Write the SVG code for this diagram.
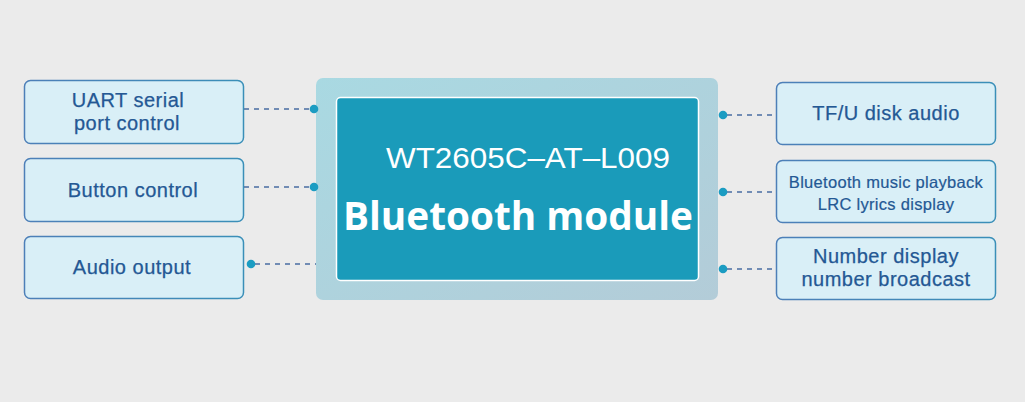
<svg xmlns="http://www.w3.org/2000/svg" width="1025" height="402" viewBox="0 0 1025 402">
<defs>
<linearGradient id="outerG" x1="0" y1="0" x2="1" y2="1">
<stop offset="0" stop-color="#a9d9e2"/>
<stop offset="1" stop-color="#b3ccd8"/>
</linearGradient>
<linearGradient id="boxStroke" x1="0" y1="0" x2="1" y2="0">
<stop offset="0" stop-color="#4d7fb8"/>
<stop offset="1" stop-color="#3a8fb8"/>
</linearGradient>
<style>
.box{fill:#d9eff7;stroke:url(#boxStroke);stroke-width:1.5}
.lbl{font-family:"Liberation Sans",Arial,sans-serif;font-size:20px;fill:#245894;text-anchor:middle;letter-spacing:0.5px;stroke:#245894;stroke-width:0.25px}
.lbls{font-family:"Liberation Sans",Arial,sans-serif;font-size:16.5px;fill:#245894;text-anchor:middle;letter-spacing:0.3px;stroke:#245894;stroke-width:0.2px}
.dash{stroke:#4a6da3;stroke-width:1.3;stroke-dasharray:5 5;fill:none}
.dot{fill:#1b9cc2}
</style>
</defs>
<rect width="1025" height="402" fill="#ebebeb"/>
<g id="center">
<rect x="316" y="78" width="402" height="222" rx="7" fill="url(#outerG)"/>
<rect x="336.5" y="97.5" width="362" height="183" rx="4" fill="#1a9bba" stroke="#ffffff" stroke-width="1.5"/>
<text x="386" y="168" font-family="Liberation Sans,Arial,sans-serif" font-size="30" fill="#ffffff" textLength="284" lengthAdjust="spacingAndGlyphs">WT2605C–AT–L009</text>
<text x="343" y="230" font-family="Open Sans,Noto Sans,sans-serif" font-weight="bold" font-size="39" fill="#ffffff" textLength="350" lengthAdjust="spacingAndGlyphs">Bluetooth module</text>
</g>
<g id="uart">
<rect class="box" x="24.5" y="80.5" width="219" height="63" rx="6"/>
<text class="lbl" x="128" y="107">UART serial</text>
<text class="lbl" x="127" y="130">port control</text>
</g>
<g id="button">
<rect class="box" x="24.5" y="158.5" width="219" height="63" rx="6"/>
<text class="lbl" x="133" y="197">Button control</text>
</g>
<g id="audio-out">
<rect class="box" x="24.5" y="236.5" width="219" height="62" rx="6"/>
<text class="lbl" x="132" y="274">Audio output</text>
</g>
<g id="tfu">
<rect class="box" x="776.5" y="82.5" width="219" height="62" rx="6"/>
<text class="lbl" x="886" y="120">TF/U disk audio</text>
</g>
<g id="btmusic">
<rect class="box" x="776.5" y="160.5" width="219" height="62" rx="6"/>
<text class="lbls" x="886" y="188">Bluetooth music playback</text>
<text class="lbls" x="886" y="210">LRC lyrics display</text>
</g>
<g id="number">
<rect class="box" x="776.5" y="237.5" width="219" height="62" rx="6"/>
<text class="lbl" x="886" y="263">Number display</text>
<text class="lbl" x="886" y="286">number broadcast</text>
</g>
<g id="connectors">
<line class="dash" x1="244" y1="109" x2="312" y2="109"/>
<circle class="dot" cx="314" cy="109" r="4.3"/>
<line class="dash" x1="244" y1="187" x2="312" y2="187"/>
<circle class="dot" cx="314" cy="187" r="4.3"/>
<line class="dash" x1="255" y1="264" x2="316" y2="264"/>
<circle class="dot" cx="251" cy="264" r="4.3"/>
<line class="dash" x1="727" y1="115" x2="777" y2="115"/>
<circle class="dot" cx="723" cy="115" r="4.3"/>
<line class="dash" x1="727" y1="192" x2="777" y2="192"/>
<circle class="dot" cx="723" cy="192" r="4.3"/>
<line class="dash" x1="727" y1="269" x2="777" y2="269"/>
<circle class="dot" cx="723" cy="269" r="4.3"/>
</g>
</svg>
